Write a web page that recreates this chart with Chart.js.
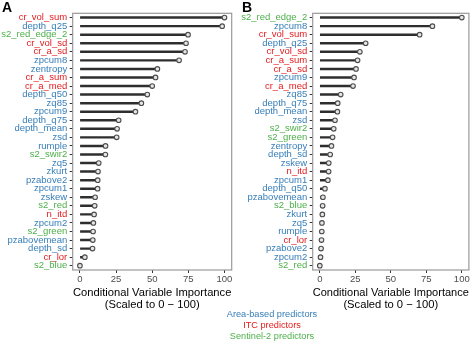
<!DOCTYPE html>
<html>
<head>
<meta charset="utf-8">
<script src="https://cdn.jsdelivr.net/npm/chart.js@4/dist/chart.umd.min.js"></script>
<style>
  html, body { margin: 0; padding: 0; background: #fff; }
  body { width: 474px; height: 343px; overflow: hidden; position: relative; font-family: "Liberation Sans", Arial, sans-serif; }
  .cw { position: absolute; top: 0; height: 343px; }
  .tag { position: absolute; font-weight: bold; font-size: 14px; line-height: 14px; color: #000; }
  .leg { position: absolute; left: 172px; width: 200px; text-align: center; font-size: 9.2px; line-height: 11px; }
</style>
</head>
<body>
<div class="cw" style="left:0;width:237px"><canvas id="cA"></canvas></div>
<div class="cw" style="left:237px;width:237px"><canvas id="cB"></canvas></div>
<div class="tag" style="left:2px;top:0px">A</div>
<div class="tag" style="left:242px;top:0px">B</div>
<div class="leg" style="top:309px;color:#377EB8">Area-based predictors</div>
<div class="leg" style="top:320px;color:#E41A1C">ITC predictors</div>
<div class="leg" style="top:331px;color:#4DAF4A">Sentinel-2 predictors</div>
<script>
// ---- data ----
const labelsA = ["cr_vol_sum","depth_q25","s2_red_edge_2","cr_vol_sd","cr_a_sd","zpcum8","zentropy","cr_a_sum","cr_a_med","depth_q50","zq85","zpcum9","depth_q75","depth_mean","zsd","rumple","s2_swir2","zq5","zkurt","pzabove2","zpcum1","zskew","s2_red","n_itd","zpcum2","s2_green","pzabovemean","depth_sd","cr_lor","s2_blue"];
const valuesA = [100, 98.4, 74.8, 73.4, 72.7, 68.6, 53.6, 52.3, 50.0, 46.6, 42.5, 38.4, 26.8, 25.7, 25.4, 17.7, 17.6, 13.0, 12.5, 12.3, 12.2, 10.5, 10.2, 9.8, 9.3, 9.1, 8.9, 8.7, 3.4, 0];
const labelsB = ["s2_red_edge_2","zpcum8","cr_vol_sum","depth_q25","cr_vol_sd","cr_a_sum","cr_a_sd","zpcum9","cr_a_med","zq85","depth_q75","depth_mean","zsd","s2_swir2","s2_green","zentropy","depth_sd","zskew","n_itd","zpcum1","depth_q50","pzabovemean","s2_blue","zkurt","zq5","rumple","cr_lor","pzabove2","zpcum2","s2_red"];
const valuesB = [100, 79.3, 70.3, 32.3, 28.2, 26.6, 25.5, 24.1, 23.4, 14.7, 12.6, 12.4, 10.7, 9.8, 9.0, 8.2, 7.3, 6.3, 6.2, 5.7, 3.6, 2.2, 2.0, 1.8, 1.5, 1.4, 1.2, 0.9, 0.5, 0];
const itcPredictors = ["cr_vol_sum","cr_vol_sd","cr_a_sd","cr_a_sum","cr_a_med","n_itd","cr_lor"];
const s2Predictors = ["s2_red_edge_2","s2_swir2","s2_red","s2_green","s2_blue"];
const xTicks = [0, 25, 50, 75, 100];
const xTitle = ["Conditional Variable Importance", "(Scaled to 0 \u2212 100)"];

const COL_AREA = "#377EB8", COL_ITC = "#E41A1C", COL_S2 = "#4DAF4A";
function colorOf(name) {
  if (itcPredictors.includes(name)) return COL_ITC;
  if (s2Predictors.includes(name)) return COL_S2;
  return COL_AREA;
}
const FONT = "'Liberation Sans', Arial, sans-serif";

const borderPlugin = {
  id: 'panelBorder',
  afterDatasetsDraw(chart) {
    const a = chart.chartArea, ctx = chart.ctx;
    ctx.save();
    ctx.strokeStyle = '#9a9a9a';
    ctx.lineWidth = 1.2;
    ctx.strokeRect(a.left, a.top, a.right - a.left, a.bottom - a.top);
    ctx.restore();
  }
};

function makeChart(id, labels, values, yWidth, padRight) {
  return new Chart(document.getElementById(id), {
    type: 'bar',
    data: {
      labels: labels,
      datasets: [
        {
          type: 'bar', data: values, indexAxis: 'y', order: 2,
          backgroundColor: '#2e2e2e', barThickness: 1.8, borderWidth: 0
        },
        {
          type: 'line', data: values, indexAxis: 'y', order: 1, showLine: false,
          pointRadius: 2.3, pointBorderWidth: 1.1, pointBorderColor: '#4d4d4d',
          pointBackgroundColor: '#e6e6e6', borderColor: '#4d4d4d'
        }
      ]
    },
    options: {
      indexAxis: 'y',
      responsive: true, maintainAspectRatio: false, animation: false,
      devicePixelRatio: 1,
      layout: { padding: { top: 13.3, left: 0, right: padRight, bottom: 32 } },
      plugins: { legend: { display: false }, tooltip: { enabled: false } },
      scales: {
        x: {
          type: 'linear', min: -5, max: 105,
          afterBuildTicks: (ax) => { ax.ticks = xTicks.map(v => ({ value: v })); },
          afterFit: (s) => { s.height = 41; s.paddingLeft = 0; s.paddingRight = 0; },
          border: { display: false },
          grid: { display: true, drawOnChartArea: false, drawTicks: true, tickLength: 3, tickColor: '#333', tickWidth: 1 },
          ticks: { color: '#4d4d4d', font: { family: FONT, size: 9.5 }, padding: 1, maxRotation: 0, autoSkip: false },
          title: { display: true, text: xTitle, color: '#000', font: { family: FONT, size: 11.2, lineHeight: 1.08 }, padding: { top: 0, bottom: 0 } }
        },
        y: {
          type: 'category', offset: true,
          afterFit: (s) => { s.width = yWidth; },
          border: { display: false },
          grid: { display: true, offset: false, drawOnChartArea: false, drawTicks: true, tickLength: 3, tickColor: '#333', tickWidth: 1 },
          ticks: { color: (ctx) => colorOf(labels[ctx.index]), font: { family: FONT, size: 9.5 }, padding: 2.5, autoSkip: false }
        }
      }
    },
    plugins: [borderPlugin]
  });
}

makeChart('cA', labelsA, valuesA, 72.7, 5.3);
makeChart('cB', labelsB, valuesB, 75.7, 2.3);
</script>
</body>
</html>
